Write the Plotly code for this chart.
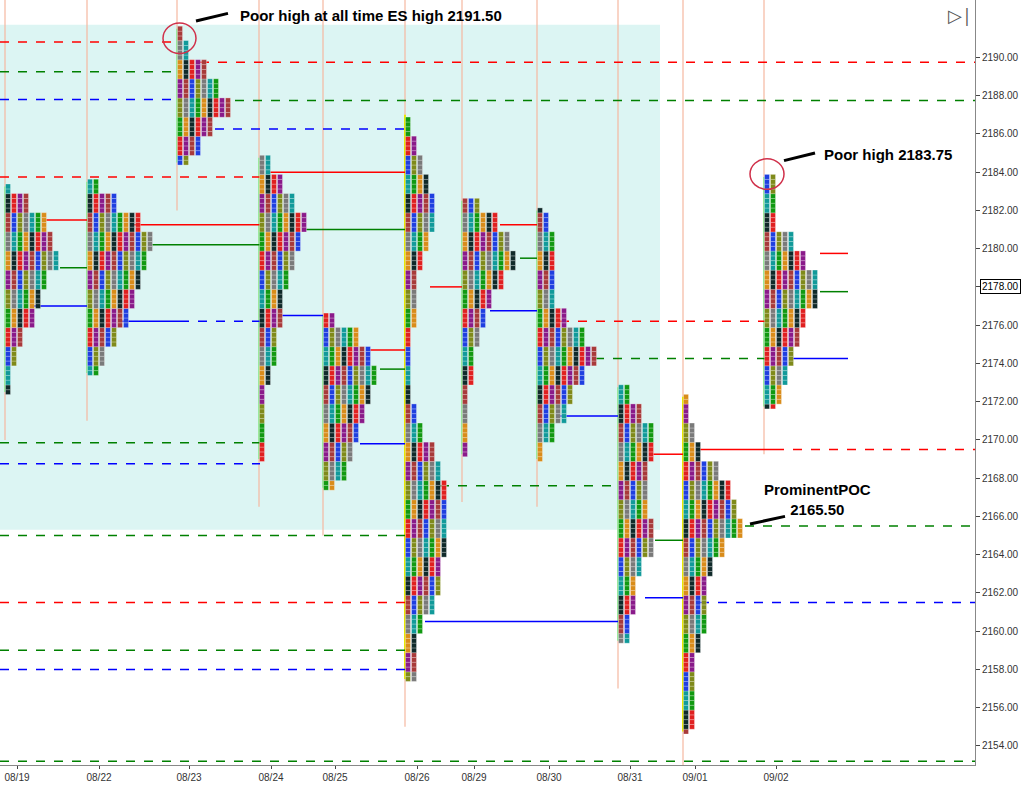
import plotly.graph_objects as go

# Market profile data: day label, x start (chart units), low bucket, widths per 1-point bucket (from low upward)
days = ["08/19","08/22","08/23","08/24","08/25","08/26","08/29","08/30","08/31","09/01","09/02"]
day_x = [5, 87, 177, 259, 323, 405, 462, 537, 618, 683, 764]
day_low = [2172.5, 2173.5, 2184.5, 2169.0, 2167.5, 2157.5, 2169.25, 2169.0, 2159.5, 2154.75, 2171.75]
day_high = [2183.25, 2183.5, 2191.5, 2184.75, 2176.5, 2187.0, 2182.5, 2182.0, 2172.75, 2172.25, 2183.75]
day_base = [2172, 2173, 2184, 2169, 2167, 2157, 2169, 2169, 2159, 2154, 2171]
day_widths = [
    [1,1,2,3,5,6,7,9,8,7,4,1],
    [2,3,5,7,8,9,10,11,9,5,2],
    [2,4,6,9,7,5,2,1],
    [1,1,1,1,2,3,3,4,4,5,6,7,8,6,4,2],
    [2,4,5,6,7,8,9,8,6,2],
    [2,2,2,3,5,6,6,7,7,7,7,6,5,3,2,1,1,1,1,2,2,2,3,4,5,5,4,3,2,1],
    [1,1,1,1,2,2,3,4,5,7,9,8,6,3],
    [1,3,5,6,8,10,8,5,3,3,3,3,2,1],
    [2,2,3,3,4,6,6,5,5,5,6,6,4,2],
    [1,2,2,2,2,3,4,4,4,5,7,10,9,8,6,3,2,1,1],
    [2,3,4,5,6,7,9,9,7,5,2,2,2],
]

# Reference levels: (x start, x end, price, color, dash)
levels = [
    (0,180,2190.8,"red","dash"),(200,975,2189.75,"red","dash"),
    (0,180,2189.25,"green","dash"),(0,180,2187.8,"blue","dash"),
    (235,975,2187.75,"green","dash"),(215,405,2186.25,"blue","dash"),
    (0,260,2183.75,"red","dash"),(270,405,2184.0,"red","solid"),
    (45,87,2181.5,"red","solid"),(130,260,2181.25,"red","solid"),
    (305,405,2181.0,"green","solid"),(60,87,2179.0,"green","solid"),
    (150,260,2180.2,"green","solid"),(30,87,2177.0,"blue","solid"),
    (120,180,2176.2,"blue","solid"),(180,260,2176.2,"blue","dash"),
    (280,323,2176.5,"blue","solid"),(430,462,2178.0,"red","solid"),
    (500,537,2181.25,"red","solid"),(490,537,2176.75,"blue","solid"),
    (520,537,2179.5,"green","solid"),(560,765,2176.2,"red","dash"),
    (370,405,2174.7,"red","solid"),(380,405,2173.7,"green","solid"),
    (595,765,2174.25,"green","dash"),(820,848,2179.75,"red","solid"),
    (820,848,2177.75,"green","solid"),(790,848,2174.25,"blue","solid"),
    (560,618,2171.25,"blue","solid"),(700,775,2169.5,"red","solid"),
    (775,975,2169.5,"red","dash"),(652,683,2169.25,"red","solid"),
    (0,260,2169.85,"green","dash"),(0,260,2168.75,"blue","dash"),
    (360,405,2169.8,"blue","solid"),(440,618,2167.6,"green","dash"),
    (745,975,2165.5,"green","dash"),(655,683,2164.75,"green","solid"),
    (0,405,2165.0,"green","dash"),(700,975,2161.5,"blue","dash"),
    (645,683,2161.75,"blue","solid"),(0,405,2161.5,"red","dash"),
    (425,618,2160.5,"blue","solid"),(0,405,2159.0,"green","dash"),
    (0,405,2158.0,"blue","dash"),(0,975,2153.2,"green","dash"),
]

ytick_vals = list(range(2154, 2191, 2))
ytick_text = [f"{v:.2f}" for v in ytick_vals]

palette = ["#102a2a","#119a9a","#1f3fe0","#e02020","#119911","#7f8a1a",
           "#8a1a8a","#d98c1a","#7a7a7a","#a83a3a"]

fig = go.Figure()
fig.add_shape(type="rect", x0=0, x1=660, y0=2165.3, y1=2191.7,
              fillcolor="#dcf5f3", line_width=0, layer="below")

for i, x in enumerate(day_x):
    fig.add_shape(type="line", x0=x, x1=x, y0=day_low[i]-2.5, y1=2193,
                  line=dict(color="#f5b8a0", width=1.2), layer="below")
    fig.add_shape(type="line", x0=x, x1=x, y0=day_low[i], y1=day_high[i],
                  line=dict(color="#e8e800" if i in (5, 9) else "#9be89b", width=2), layer="below")

for (a, b, p, c, d) in levels:
    fig.add_trace(go.Scatter(x=[a, b], y=[p, p], mode="lines",
                             line=dict(color=c, width=1.5, dash=d),
                             hoverinfo="skip", showlegend=False))

xs, ys, cs = [], [], []
for i in range(len(days)):
    for b, w in enumerate(day_widths[i]):
        for r in range(4):
            p = day_base[i] + b + r * 0.25
            if p < day_low[i] or p > day_high[i]:
                continue
            for col in range(w):
                xs.append(day_x[i] + 3 + col * 6)
                ys.append(p)
                cs.append(palette[(col * 3 + b + i) % len(palette)])
fig.add_trace(go.Scatter(x=xs, y=ys, mode="markers",
                         marker=dict(symbol="square", size=5, color=cs,
                                     line=dict(width=0.5, color="rgba(255,255,255,0.6)")),
                         hoverinfo="skip", showlegend=False))

fig.add_shape(type="circle", x0=163, x1=196, y0=2190.2, y1=2191.8, line=dict(color="#d0304a", width=1.5))
fig.add_shape(type="circle", x0=750, x1=784, y0=2183.1, y1=2184.7, line=dict(color="#d0304a", width=1.5))
fig.add_shape(type="line", x0=196, x1=228, y0=2191.9, y1=2192.3, line=dict(color="black", width=3))
fig.add_shape(type="line", x0=784, x1=815, y0=2184.6, y1=2185.0, line=dict(color="black", width=3))
fig.add_shape(type="line", x0=750, x1=785, y0=2165.6, y1=2166.0, line=dict(color="black", width=3))
fig.add_annotation(x=238, y=2192.2, text="<b>Poor high at all time ES high 2191.50</b>",
                   showarrow=False, xanchor="left", font=dict(size=15, color="black", family="Arial"))
fig.add_annotation(x=822, y=2184.9, text="<b>Poor high 2183.75</b>",
                   showarrow=False, xanchor="left", font=dict(size=15, color="black", family="Arial"))
fig.add_annotation(x=817, y=2166.9, text="<b>ProminentPOC<br>2165.50</b>",
                   showarrow=False, xanchor="center", font=dict(size=15, color="black", family="Arial"))
fig.add_annotation(x=1.005, xref="paper", y=2178.0, text="2178.00", showarrow=False, xanchor="left",
                   bgcolor="white", bordercolor="black", borderwidth=1,
                   font=dict(size=10, color="black", family="Arial"))
fig.add_annotation(x=960, y=2192.2, text="▷|", showarrow=False,
                   font=dict(size=18, color="#555"))

fig.update_layout(
    width=1024, height=787, margin=dict(l=0, r=49, t=0, b=22),
    paper_bgcolor="white", plot_bgcolor="white",
    xaxis=dict(range=[0, 975], tickvals=[x + 12 for x in day_x], ticktext=days,
               showgrid=False, zeroline=False, ticks="outside", ticklen=3,
               showline=True, linecolor="#888", tickfont=dict(size=10, family="Arial", color="#333")),
    yaxis=dict(range=[2153.0, 2193.0], side="right", tickvals=ytick_vals, ticktext=ytick_text,
               showgrid=False, zeroline=False, ticks="outside", ticklen=4,
               showline=True, linecolor="#888", tickfont=dict(size=10, family="Arial", color="#333")),
)
fig.write_html("out.html", config={"displayModeBar": False},
               post_script="document.body.style.margin='0';document.body.style.overflow='hidden';")
